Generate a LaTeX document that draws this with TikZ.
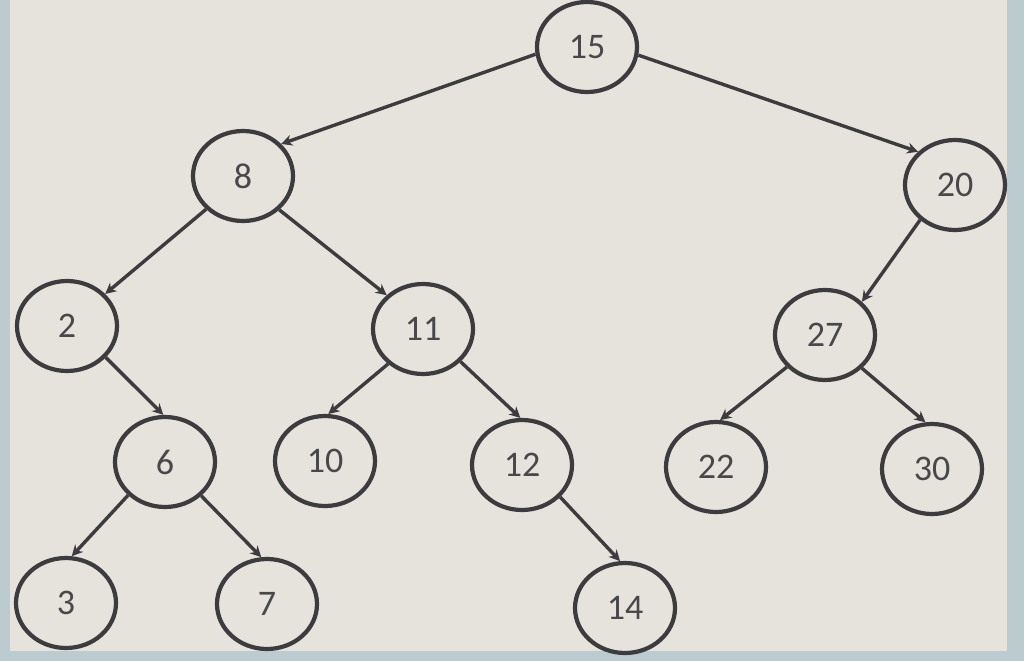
\documentclass[tikz,border=0pt]{standalone}
\usepackage{fontspec}
\setmainfont{Carlito}
\usetikzlibrary{shapes.geometric,arrows.meta}
\definecolor{paper}{HTML}{E6E2DC}
\definecolor{frame}{HTML}{BCCBD0}
\definecolor{ink}{HTML}{3C3C3E}
\definecolor{txt}{HTML}{48484A}
\tikzset{
  tnode/.style={ellipse,draw=ink,line width=4.2pt,minimum width=100pt,minimum height=90pt,inner sep=0pt,
    font=\fontsize{36}{36}\selectfont,text=txt},
  tedge/.style={draw=ink,line width=3.4pt,-{Stealth[length=11pt,width=11pt]}}
}
\begin{document}
\begin{tikzpicture}[x=1pt,y=-1pt]
\fill[frame] (0,0) rectangle (1024,661);
\fill[paper] (10,0) rectangle (1007,651);
\useasboundingbox (0,0) rectangle (1024,661);
\node[tnode] (n15) at (587,47) {15};
\node[tnode] (n8) at (243,176) {8};
\node[tnode] (n20) at (955,185) {20};
\node[tnode] (n2) at (67,326) {2};
\node[tnode] (n11) at (423,329) {11};
\node[tnode] (n27) at (825,335) {27};
\node[tnode] (n6) at (165,462) {6};
\node[tnode] (n10) at (325,461) {10};
\node[tnode] (n12) at (522,465) {12};
\node[tnode] (n22) at (716,467) {22};
\node[tnode] (n30) at (932,469) {30};
\node[tnode] (n3) at (66,603) {3};
\node[tnode] (n7) at (267,604) {7};
\node[tnode] (n14) at (625,608) {14};
\path[tedge] (n15.188) -- (n8.40);
\path[tedge] (n15.351) -- (n20.138);
\path[tedge] (n8.222) -- (n2.40);
\path[tedge] (n8.317) -- (n11.137);
\path[tedge] (n20.225) -- (n27.42);
\path[tedge] (n2.321) -- (n6.92);
\path[tedge] (n11.225) -- (n10.86);
\path[tedge] (n11.319) -- (n12.92);
\path[tedge] (n27.220) -- (n22.85);
\path[tedge] (n27.318) -- (n30.98);
\path[tedge] (n6.222) -- (n3.83);
\path[tedge] (n6.317) -- (n7.97);
\path[tedge] (n12.320) -- (n14.96);
\end{tikzpicture}
\end{document}
